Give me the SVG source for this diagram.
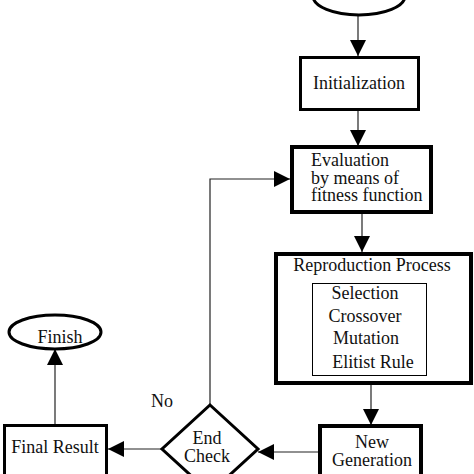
<svg xmlns="http://www.w3.org/2000/svg" width="474" height="474" viewBox="0 0 474 474">
<style>
text{font-family:"Liberation Serif","Times New Roman",serif;font-size:18px;fill:#111}
.n{fill:#fff;stroke:#000}
.c{fill:none;stroke:#222;stroke-width:1.2}
</style>
<defs>
<marker id="ah" markerUnits="userSpaceOnUse" markerWidth="16" markerHeight="16" refX="16" refY="8" orient="auto">
<path d="M0,0 L16,8 L0,16 z" fill="#000"/>
</marker>
</defs>
<rect width="474" height="474" fill="#fff"/>
<g id="connectors">
<path class="c" d="M358,15 V56" marker-end="url(#ah)"/>
<path class="c" d="M358,110 V146" marker-end="url(#ah)"/>
<path class="c" d="M362,213 V252" marker-end="url(#ah)"/>
<path class="c" d="M371,385 V425" marker-end="url(#ah)"/>
<path class="c" d="M319,452 H258" marker-end="url(#ah)"/>
<path class="c" d="M162,449 H108" marker-end="url(#ah)"/>
<path class="c" d="M55,424 V349" marker-end="url(#ah)"/>
<path class="c" d="M210,405 V179 H290" marker-end="url(#ah)"/>
<text x="162" y="407" text-anchor="middle">No</text>
</g>
<g id="start">
<ellipse class="n" cx="359" cy="-4" rx="46" ry="19" stroke-width="3"/>
</g>
<g id="init">
<rect class="n" x="300.5" y="57.5" width="118" height="52" stroke-width="3"/>
<text x="359" y="89" text-anchor="middle">Initialization</text>
</g>
<g id="eval">
<rect class="n" x="292" y="147" width="139" height="65" stroke-width="4"/>
<text x="311" y="166">Evaluation</text>
<text x="311" y="184">by means of</text>
<text x="311" y="201">fitness function</text>
</g>
<g id="repro">
<rect class="n" x="276" y="254" width="195" height="129" stroke-width="4"/>
<text x="372" y="271" text-anchor="middle">Reproduction Process</text>
<rect class="n" x="312.5" y="283.5" width="114" height="92" stroke-width="1"/>
<text x="365" y="299" text-anchor="middle">Selection</text>
<text x="365" y="322" text-anchor="middle">Crossover</text>
<text x="366" y="344" text-anchor="middle">Mutation</text>
<text x="373" y="368" text-anchor="middle">Elitist Rule</text>
</g>
<g id="newgen">
<rect class="n" x="320" y="426" width="101" height="60" stroke-width="4"/>
<text x="372" y="448" text-anchor="middle">New</text>
<text x="372" y="466" text-anchor="middle">Generation</text>
</g>
<g id="endcheck">
<polygon class="n" points="210,405 258,449 210,493 162,449" stroke-width="3"/>
<text x="207" y="444" text-anchor="middle">End</text>
<text x="207" y="462" text-anchor="middle">Check</text>
</g>
<g id="final">
<rect class="n" x="4.5" y="425.5" width="102" height="60" stroke-width="3"/>
<text x="55" y="453" text-anchor="middle">Final Result</text>
</g>
<g id="finish">
<ellipse class="n" cx="55" cy="332" rx="46" ry="17" stroke-width="3"/>
<text x="60" y="343" text-anchor="middle">Finish</text>
</g>
</svg>
